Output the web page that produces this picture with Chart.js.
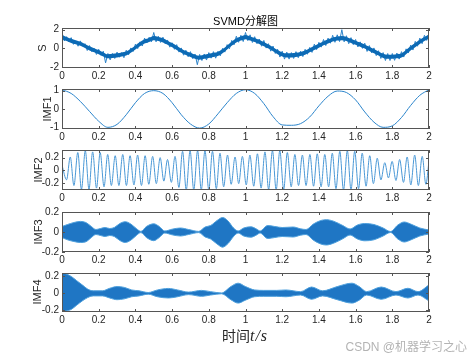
<!DOCTYPE html>
<html><head><meta charset="utf-8">
<script src="https://cdn.jsdelivr.net/npm/chart.js@4.4.1/dist/chart.umd.min.js"></script>
<style>
html,body{margin:0;padding:0;background:#fff;}
#wrap{position:relative;width:474px;height:355px;overflow:hidden;background:#fff;font-family:"Liberation Sans",Arial,sans-serif;color:#262626;}
canvas{position:absolute;left:0;}
.yl{position:absolute;font-size:11px;color:#262626;transform:translate(-50%,-50%) rotate(-90deg);white-space:nowrap;}
#title{position:absolute;left:245.5px;top:20px;transform:translate(-50%,-50%);font-size:11px;color:#000;white-space:nowrap;font-family:"Liberation Sans","Noto Sans CJK SC",sans-serif;}
#xlab{position:absolute;left:245px;top:335px;transform:translate(-50%,-50%);font-size:14px;color:#262626;white-space:nowrap;font-family:"Noto Sans CJK SC",sans-serif;}
#xlab i{font-family:"Liberation Serif",serif;font-size:16px;letter-spacing:1px;}
#wm{position:absolute;right:7px;top:345px;transform:translateY(-50%);font-size:12px;color:#b3b3b3;white-space:nowrap;font-family:"Liberation Sans","Noto Sans CJK SC",sans-serif;}
</style></head>
<body>
<div id="wrap">
  <canvas id="c0" width="474" height="65" style="top:19px"></canvas>
  <canvas id="c1" width="474" height="65" style="top:80px"></canvas>
  <canvas id="c2" width="474" height="65" style="top:141px"></canvas>
  <canvas id="c3" width="474" height="65" style="top:203px"></canvas>
  <canvas id="c4" width="474" height="64" style="top:264px"></canvas>
  <div id="title">SVMD分解图</div>
  <div class="yl" style="left:42px;top:47.5px">S</div>
  <div class="yl" style="left:47px;top:108.5px">IMF1</div>
  <div class="yl" style="left:37.5px;top:169.5px">IMF2</div>
  <div class="yl" style="left:37.5px;top:231.5px">IMF3</div>
  <div class="yl" style="left:37px;top:292px">IMF4</div>
  <div id="xlab">时间<i>t/s</i></div>
  <div id="wm">CSDN @机器学习之心</div>
</div>
<script>
// ---------- axis ticks ----------
const xTicks = [0,0.2,0.4,0.6,0.8,1,1.2,1.4,1.6,1.8,2];
const xTickLabels = ['0','0.2','0.4','0.6','0.8','1','1.2','1.4','1.6','1.8','2'];
const sYTicks = [-2,0,2];
const sYLabels = ['-2','0','2'];
const imf1YTicks = [-1,0,1];
const imf1YLabels = ['-1','0','1'];
const smallYTicks = [-0.2,0,0.2];
const smallYLabels = ['-0.2','0','0.2'];

// ---------- S (noisy signal), sampled every 0.0125 s ----------
const sTime = [0,0.0125,0.025,0.0375,0.05,0.0625,0.075,0.0875,0.1,0.1125,0.125,0.1375,0.15,0.1625,0.175,0.1875,0.2,0.2125,0.225,0.2375,
  0.25,0.2625,0.275,0.2875,0.3,0.3125,0.325,0.3375,0.35,0.3625,0.375,0.3875,0.4,0.4125,0.425,0.4375,0.45,0.4625,0.475,0.4875,
  0.5,0.5125,0.525,0.5375,0.55,0.5625,0.575,0.5875,0.6,0.6125,0.625,0.6375,0.65,0.6625,0.675,0.6875,0.7,0.7125,0.725,0.7375,
  0.75,0.7625,0.775,0.7875,0.8,0.8125,0.825,0.8375,0.85,0.8625,0.875,0.8875,0.9,0.9125,0.925,0.9375,0.95,0.9625,0.975,0.9875,
  1,1.0125,1.025,1.0375,1.05,1.0625,1.075,1.0875,1.1,1.1125,1.125,1.1375,1.15,1.1625,1.175,1.1875,1.2,1.2125,1.225,1.2375,
  1.25,1.2625,1.275,1.2875,1.3,1.3125,1.325,1.3375,1.35,1.3625,1.375,1.3875,1.4,1.4125,1.425,1.4375,1.45,1.4625,1.475,1.4875,
  1.5,1.5125,1.525,1.5375,1.55,1.5625,1.575,1.5875,1.6,1.6125,1.625,1.6375,1.65,1.6625,1.675,1.6875,1.7,1.7125,1.725,1.7375,
  1.75,1.7625,1.775,1.7875,1.8,1.8125,1.825,1.8375,1.85,1.8625,1.875,1.8875,1.9,1.9125,1.925,1.9375,1.95,1.9625,1.975,1.9875,2];
const sValue = [1.7,0.8,1.25,0.7,1.15,0.43,0.8,0.23,0.8,0.23,0.5,-0.23,0.3,-0.35,0.0,-0.65,-0.1,-0.73,-0.3,-1.55,
  -0.55,-1.23,-0.55,-1.08,-0.4,-0.95,-0.45,-1.0,-0.2,-0.7,0.05,-0.33,0.45,-0.03,0.7,0.25,1.1,0.58,1.2,0.7,
  1.7,0.7,1.3,0.63,1.2,0.48,0.9,0.13,0.6,-0.1,0.4,-0.4,0.05,-0.73,-0.2,-0.9,-0.35,-1.1,-0.6,-1.75,
  -0.65,-1.3,-0.6,-1.25,-0.45,-1.05,-0.35,-1.05,-0.3,-0.8,0.0,-0.4,0.4,-0.05,0.85,0.38,1.3,0.65,1.4,0.73,
  1.7,0.83,1.45,0.63,1.25,0.5,1.0,0.23,0.85,0.03,0.5,-0.3,0.25,-0.55,-0.1,-0.93,-0.3,-1.15,-0.4,-1.15,
  -0.45,-1.08,-0.35,-1.0,-0.3,-0.88,-0.1,-0.63,0.1,-0.43,0.45,-0.13,0.65,0.13,0.95,0.3,1.1,0.55,1.4,0.65,
  1.45,0.73,2.0,0.7,1.35,0.5,1.15,0.4,0.95,0.15,0.7,0.0,0.55,-0.33,0.3,-0.48,0.05,-0.78,-0.25,-1.08,
  -0.45,-1.3,-0.55,-1.3,-0.55,-1.28,-0.5,-1.15,-0.35,-0.93,-0.05,-0.5,0.35,-0.18,0.75,0.23,1.1,0.5,1.4,0.85,1.65];
// dense core of the S trace (upper / lower edge, every 0.025 s)
const sCoreTime = [0,0.025,0.05,0.075,0.1,0.125,0.15,0.175,0.2,0.225,0.25,0.275,0.3,0.325,0.35,0.375,0.4,0.425,0.45,0.475,
  0.5,0.525,0.55,0.575,0.6,0.625,0.65,0.675,0.7,0.725,0.75,0.775,0.8,0.825,0.85,0.875,0.9,0.925,0.95,0.975,
  1,1.025,1.05,1.075,1.1,1.125,1.15,1.175,1.2,1.225,1.25,1.275,1.3,1.325,1.35,1.375,1.4,1.425,1.45,1.475,
  1.5,1.525,1.55,1.575,1.6,1.625,1.65,1.675,1.7,1.725,1.75,1.775,1.8,1.825,1.85,1.875,1.9,1.925,1.95,1.975,2];
const sCoreUpper = [1.42,1.22,1.02,0.87,0.72,0.47,0.22,0.02,-0.18,-0.43,-0.63,-0.58,-0.53,-0.43,-0.33,-0.03,0.32,0.67,0.97,1.12,
  1.32,1.22,1.07,0.82,0.57,0.27,-0.03,-0.28,-0.48,-0.68,-0.78,-0.68,-0.58,-0.48,-0.38,-0.08,0.32,0.72,1.07,1.27,
  1.42,1.27,1.12,0.92,0.67,0.42,0.12,-0.18,-0.43,-0.53,-0.53,-0.48,-0.38,-0.23,0.02,0.27,0.52,0.77,0.97,1.17,
  1.27,1.32,1.22,1.02,0.82,0.62,0.42,0.17,-0.08,-0.33,-0.58,-0.68,-0.68,-0.63,-0.53,-0.18,0.22,0.57,0.92,1.22,1.52];
const sCoreLower = [0.98,0.78,0.58,0.43,0.28,0.03,-0.22,-0.42,-0.62,-0.87,-1.07,-1.02,-0.97,-0.87,-0.77,-0.47,-0.12,0.23,0.53,0.68,
  0.88,0.78,0.63,0.38,0.13,-0.17,-0.47,-0.72,-0.92,-1.12,-1.22,-1.12,-1.02,-0.92,-0.82,-0.52,-0.12,0.28,0.63,0.83,
  0.98,0.83,0.68,0.48,0.23,-0.02,-0.32,-0.62,-0.87,-0.97,-0.97,-0.92,-0.82,-0.67,-0.42,-0.17,0.08,0.33,0.53,0.73,
  0.83,0.88,0.78,0.58,0.38,0.18,-0.02,-0.27,-0.52,-0.77,-1.02,-1.12,-1.12,-1.07,-0.97,-0.62,-0.22,0.13,0.48,0.78,1.08];

// ---------- IMF1 ----------
const imf1T = [0,0.05,0.1,0.15,0.2,0.25,0.3,0.35,0.4,0.45,0.5,0.55,0.6,0.65,0.7,0.75,0.8,0.85,0.9,0.95,
  1,1.05,1.1,1.15,1.2,1.25,1.3,1.35,1.4,1.45,1.5,1.55,1.6,1.65,1.7,1.75,1.8,1.85,1.9,1.95,2];
const imf1V = [1.05,0.85,0.42,-0.12,-0.65,-0.98,-0.82,-0.3,0.35,0.85,1.0,0.85,0.35,-0.3,-0.8,-1.02,-0.8,-0.25,0.35,0.85,
  1.05,0.85,0.3,-0.4,-0.85,-0.87,-0.78,-0.42,0.18,0.7,0.98,0.9,0.5,-0.15,-0.7,-0.98,-0.9,-0.45,0.2,0.75,1.05];

// ---------- IMF2 (extrema of the oscillation) ----------
const imf2T = [0,0.025,0.045,0.065,0.086,0.106,0.127,0.147,0.167,0.188,0.208,0.229,0.249,0.269,0.290,0.310,0.331,0.351,0.371,0.392,
  0.412,0.433,0.453,0.473,0.494,0.514,0.535,0.555,0.575,0.596,0.616,0.637,0.657,0.677,0.698,0.718,0.739,0.759,0.779,0.800,
  0.820,0.841,0.861,0.881,0.902,0.922,0.943,0.963,0.983,1.004,1.024,1.045,1.065,1.085,1.106,1.126,1.147,1.167,1.187,1.208,
  1.228,1.249,1.269,1.289,1.310,1.330,1.351,1.371,1.391,1.412,1.432,1.453,1.473,1.493,1.514,1.534,1.555,1.575,1.595,1.616,
  1.636,1.657,1.677,1.697,1.718,1.738,1.759,1.779,1.799,1.820,1.840,1.861,1.881,1.901,1.922,1.942,1.963,1.983,2.0];
const imf2V = [0.08,-0.15,0.21,-0.24,0.28,-0.3,0.31,-0.3,0.29,-0.28,0.28,-0.26,0.25,-0.24,0.23,-0.24,0.25,-0.24,0.23,-0.23,
  0.24,-0.24,0.23,-0.22,0.22,-0.21,0.2,-0.17,0.17,-0.19,0.22,-0.27,0.3,-0.31,0.31,-0.31,0.31,-0.31,0.31,-0.31,
  0.3,-0.29,0.27,-0.26,0.24,-0.22,0.21,-0.21,0.22,-0.23,0.24,-0.25,0.26,-0.28,0.29,-0.3,0.31,-0.31,0.31,-0.3,
  0.28,-0.26,0.25,-0.24,0.24,-0.24,0.25,-0.25,0.26,-0.26,0.25,-0.26,0.27,-0.29,0.3,-0.31,0.31,-0.31,0.3,-0.29,
  0.27,-0.25,0.23,-0.21,0.19,-0.15,0.12,-0.12,0.14,-0.16,0.17,-0.19,0.21,-0.23,0.24,-0.24,0.22,-0.22,0.15];

// ---------- IMF3 (envelope of the fast oscillation) ----------
const imf3T = [0,0.03,0.065,0.1,0.13,0.16,0.185,0.21,0.235,0.26,0.285,0.315,0.345,0.375,0.405,0.43,0.46,0.5,0.53,0.56,
  0.6,0.645,0.69,0.745,0.78,0.81,0.845,0.875,0.905,0.935,0.96,0.99,1.03,1.06,1.08,1.12,1.16,1.2,1.26,1.3,
  1.33,1.37,1.41,1.44,1.48,1.53,1.57,1.61,1.65,1.7,1.75,1.79,1.83,1.865,1.9,1.95,2];
const imf3Upper = [0.055,0.075,0.095,0.106,0.095,0.055,0.025,0.035,0.045,0.035,0.045,0.085,0.103,0.08,0.035,0.006,0.055,0.082,0.055,0.01,
  0.028,0.04,0.025,0.006,0.05,0.065,0.115,0.145,0.11,0.04,0.01,0.04,0.052,0.03,0.01,0.065,0.055,0.045,0.05,0.032,
  0.025,0.08,0.115,0.123,0.108,0.065,0.03,0.07,0.085,0.075,0.04,0.005,0.07,0.1,0.08,0.04,0.02];
const imf3Lower = [-0.055,-0.078,-0.095,-0.105,-0.098,-0.055,-0.025,-0.035,-0.045,-0.035,-0.045,-0.085,-0.105,-0.082,-0.035,-0.006,-0.055,-0.087,-0.055,-0.01,
  -0.028,-0.04,-0.025,-0.006,-0.05,-0.07,-0.12,-0.152,-0.115,-0.045,-0.01,-0.04,-0.052,-0.03,-0.01,-0.065,-0.055,-0.045,-0.05,-0.032,
  -0.025,-0.082,-0.12,-0.13,-0.112,-0.068,-0.03,-0.07,-0.088,-0.078,-0.04,-0.005,-0.07,-0.1,-0.08,-0.04,-0.02];

// ---------- IMF4 (envelope of the fast oscillation) ----------
const imf4T = [0,0.02,0.05,0.08,0.11,0.14,0.17,0.22,0.26,0.3,0.34,0.38,0.42,0.47,0.52,0.58,0.63,0.69,0.76,0.81,
  0.87,0.92,0.96,1.0,1.05,1.1,1.17,1.22,1.3,1.36,1.42,1.5,1.58,1.62,1.66,1.74,1.82,1.885,1.94,2];
const imf4Upper = [0.24,0.23,0.2,0.15,0.1,0.05,0.03,0.03,0.06,0.08,0.07,0.04,0.03,0.01,0.04,0.058,0.04,0.015,0.035,0.02,
  0.005,0.08,0.12,0.08,0.04,0.035,0.035,0.04,0.02,0.075,0.03,0.08,0.12,0.08,0.02,0.075,0.02,0.06,0.02,0.1];
const imf4Lower = [-0.22,-0.21,-0.19,-0.14,-0.09,-0.05,-0.03,-0.03,-0.055,-0.075,-0.065,-0.04,-0.03,-0.01,-0.04,-0.055,-0.04,-0.015,-0.035,-0.02,
  -0.005,-0.075,-0.115,-0.08,-0.04,-0.035,-0.035,-0.04,-0.02,-0.07,-0.03,-0.075,-0.115,-0.08,-0.02,-0.07,-0.02,-0.055,-0.02,-0.09];

// ---------- helpers ----------
const pts = (ts, vs) => ts.map((t, i) => ({x: t, y: vs[i]}));
const FONT = {family: '"Liberation Sans", Arial, sans-serif', size: 10};

const boxPlugin = {
  id: 'matlabBox',
  afterDraw(chart) {
    const {ctx, chartArea: a, scales: {x, y}} = chart;
    ctx.save();
    ctx.strokeStyle = '#555555';
    ctx.lineWidth = 1;
    ctx.beginPath();
    x.ticks.forEach(t => {
      const px = Math.round(x.getPixelForValue(t.value)) + 0.5;
      ctx.moveTo(px, a.bottom); ctx.lineTo(px, a.bottom - 3);
      ctx.moveTo(px, a.top); ctx.lineTo(px, a.top + 3);
    });
    y.ticks.forEach(t => {
      const py = Math.round(y.getPixelForValue(t.value)) + 0.5;
      ctx.moveTo(a.left, py); ctx.lineTo(a.left + 3, py);
      ctx.moveTo(a.right, py); ctx.lineTo(a.right - 3, py);
    });
    ctx.stroke();
    ctx.strokeRect(Math.round(a.left) + 0.5, Math.round(a.top) + 0.5,
                   Math.round(a.right - a.left) - 1, Math.round(a.bottom - a.top) - 1);
    ctx.restore();
  }
};

function panel(id, datasets, yMin, yMax, yTicks, yLabels) {
  return new Chart(document.getElementById(id), {
    type: 'line',
    data: {datasets},
    options: {
      responsive: false, animation: false, events: [],
      layout: {padding: {left: 0, right: 45, top: 8, bottom: 0}},
      plugins: {legend: {display: false}, tooltip: {enabled: false}},
      elements: {point: {radius: 0}},
      scales: {
        x: {
          type: 'linear', min: 0, max: 2,
          grid: {display: false, drawTicks: false}, border: {display: false},
          afterBuildTicks: s => { s.ticks = xTicks.map(v => ({value: v})); },
          afterFit: s => { s.height = 16; },
          ticks: {padding: 2, color: '#262626', font: FONT, maxRotation: 0, autoSkip: false,
                  callback: (v, i) => xTickLabels[i]}
        },
        y: {
          type: 'linear', min: yMin, max: yMax,
          grid: {display: false, drawTicks: false}, border: {display: false},
          afterBuildTicks: s => { s.ticks = yTicks.map(v => ({value: v})); },
          afterFit: s => { s.width = 62; },
          ticks: {padding: 3, color: '#262626', font: FONT, autoSkip: false,
                  callback: (v, i) => yLabels[i]}
        }
      }
    },
    plugins: [boxPlugin]
  });
}

const EDGE = '#4d9fdc';
const FILL = '#1f76c4';

function band(ts, up, lo, edge, fill, width) {
  return [
    {data: pts(ts, up), borderColor: edge, borderWidth: width, fill: false, cubicInterpolationMode: 'monotone'},
    {data: pts(ts, lo), borderColor: edge, borderWidth: width, fill: '-1', backgroundColor: fill, cubicInterpolationMode: 'monotone'}
  ];
}

panel('c0', [
    ...band(sCoreTime, sCoreUpper, sCoreLower, '#0c6ab5', '#0c6ab5', 0),
    {data: pts(sTime, sValue), borderColor: '#2a82c9', borderWidth: 1, fill: false, tension: 0}
  ], -2.1, 2.18, sYTicks, sYLabels);
panel('c1', [{data: pts(imf1T, imf1V), borderColor: '#2a84cb', borderWidth: 1, fill: false, cubicInterpolationMode: 'monotone'}],
      -1.07, 1.09, imf1YTicks, imf1YLabels);
panel('c2', [{data: pts(imf2T, imf2V), borderColor: '#4a98d6', borderWidth: 1, fill: false, cubicInterpolationMode: 'monotone'}],
      -0.31, 0.32, smallYTicks, smallYLabels);
panel('c3', band(imf3T, imf3Upper, imf3Lower, EDGE, FILL, 1), -0.2, 0.2, smallYTicks, smallYLabels);
panel('c4', band(imf4T, imf4Upper, imf4Lower, EDGE, FILL, 1), -0.22, 0.24, smallYTicks, smallYLabels);
</script>
</body></html>
